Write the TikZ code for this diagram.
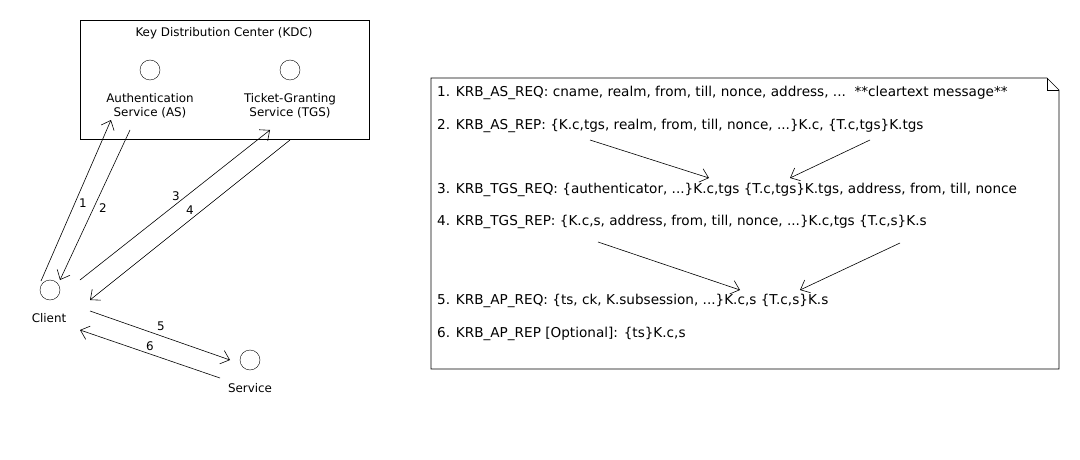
\documentclass[tikz,border=0pt]{standalone}
\usepackage{fontspec}
\setmainfont{DejaVu Sans}
\usetikzlibrary{arrows.meta}
\begin{document}
\begin{tikzpicture}[x=1pt,y=-1pt,
  every node/.style={font=\fontsize{11.9}{14.5}\selectfont, inner sep=0pt},
  actor/.style={draw, circle, minimum size=20pt},
  msg/.style={-{Straight Barb[length=8pt,width=14pt]}, semithick},
  line/.style={anchor=west, font=\fontsize{13.6}{15}\selectfont}]
\useasboundingbox (0,0) rectangle (1080,460);
% KDC
\node[draw, minimum width=289pt, minimum height=119pt, anchor=north west, semithick] (kdc) at (80,20) {};
\node (kdct) at (224,33) {Key Distribution Center (KDC)};
\node[actor] (as) at (150,70) {};
\node[align=center] (asl) at (150,106) {Authentication\\Service (AS)};
\node[actor] (tgs) at (290,70) {};
\node[align=center] (tgsl) at (290,106) {Ticket-Granting\\Service (TGS)};
\node[actor] (cl) at (50,290) {};
\node (cll) at (49,318) {Client};
\node[actor] (sv) at (250,360) {};
\node (svl) at (250,388) {Service};
% coordinates
\coordinate (a1s) at (41,281); \coordinate (a1e) at (111,120);
\coordinate (a2s) at (130,130); \coordinate (a2e) at (60,280);
\coordinate (a3s) at (80,280); \coordinate (a3e) at (270,130);
\coordinate (a4s) at (290,140); \coordinate (a4e) at (90,300);
\coordinate (a5s) at (90,311); \coordinate (a5e) at (230,360);
\coordinate (a6s) at (220,378); \coordinate (a6e) at (80,330);
\draw[msg] (a1s) -- (a1e);
\draw[msg] (a2s) -- (a2e);
\draw[msg] (a3s) -- (a3e);
\draw[msg] (a4s) -- (a4e);
\draw[msg] (a5s) -- (a5e);
\draw[msg] (a6s) -- (a6e);
\node (n1) at (83,203) {1};
\node (n2) at (103,208) {2};
\node (n3) at (176,196) {3};
\node (n4) at (190,210) {4};
\node (n5) at (161,326) {5};
\node (n6) at (150,346) {6};
% note
\draw[semithick] (431,78) -- (1047,78) -- (1059,90) -- (1059,369) -- (431,369) -- cycle;
\draw[semithick] (1047,78) -- (1047,90) -- (1059,90);
\node[line] (l1) at (437,93) {1. KRB\_AS\_REQ: cname, realm, from, till, nonce, address, ...\ \ **cleartext message**};
\node[line] (l2) at (437,126) {2. KRB\_AS\_REP: \{K.c,tgs, realm, from, till, nonce, ...\}K.c, \{T.c,tgs\}K.tgs};
\node[line] (l3) at (437,190) {3. KRB\_TGS\_REQ: \{authenticator, ...\}K.c,tgs \{T.c,tgs\}K.tgs, address, from, till, nonce};
\node[line] (l4) at (437,222) {4. KRB\_TGS\_REP: \{K.c,s, address, from, till, nonce, ...\}K.c,tgs \{T.c,s\}K.s};
\node[line] (l5) at (437,301) {5. KRB\_AP\_REQ: \{ts, ck, K.subsession, ...\}K.c,s \{T.c,s\}K.s};
\node[line] (l6) at (437,334) {6. KRB\_AP\_REP [Optional]: \{ts\}K.c,s};
\coordinate (b1s) at (590,140); \coordinate (b1e) at (709,178);
\coordinate (b2s) at (870,140); \coordinate (b2e) at (790,178);
\coordinate (b3s) at (598,242); \coordinate (b3e) at (740,290);
\coordinate (b4s) at (900,243); \coordinate (b4e) at (800,290);
\draw[msg] (b1s) -- (b1e);
\draw[msg] (b2s) -- (b2e);
\draw[msg] (b3s) -- (b3e);
\draw[msg] (b4s) -- (b4e);
\end{tikzpicture}
\end{document}
